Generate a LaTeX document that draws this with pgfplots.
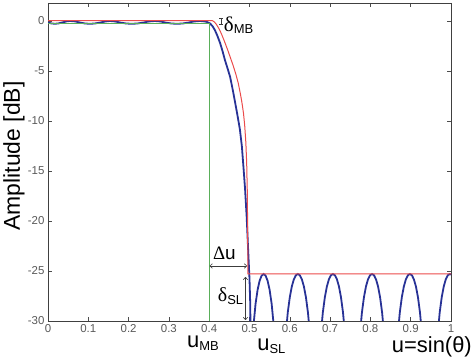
\documentclass[border=0pt]{standalone}
\usepackage{fontspec}
\setmainfont{Liberation Sans}
\newfontfamily\grk{Liberation Serif}
\usepackage{pgfplots}
\pgfplotsset{compat=1.18}
\usetikzlibrary{arrows.meta}
\definecolor{myblue}{RGB}{40,50,150}
\definecolor{myred}{RGB}{235,75,75}
\definecolor{mygreen}{RGB}{90,175,90}
\definecolor{arr}{RGB}{60,60,60}
\begin{document}
\begin{tikzpicture}
\path[use as bounding box] (0,0) rectangle (474bp,360bp);
\begin{axis}[
  at={(48bp,39bp)}, anchor=south west,
  scale only axis, width=403bp, height=318bp,
  xmin=0, xmax=1, ymin=-30, ymax=1.8,
  xtick={0,0.1,0.2,0.3,0.4,0.5,0.6,0.7,0.8,0.9,1},
  ytick={-30,-25,-20,-15,-10,-5,0},
  tick align=inside, major tick length=4bp,
  tick style={black!70, line width=0.5bp},
  axis line style={black!75, line width=0.6bp},
  ticklabel style={font=\fontsize{11.5}{12}\selectfont, text=black!65},
  /pgf/number format/assume math mode=true,
  clip mode=individual,
]
% blue: array pattern
\addplot[myblue, line width=1.8bp] coordinates {
(0,-0.15)(0.008,-0.24)(0.017,-0.28)(0.026,-0.24)(0.036,-0.14)(0.046,-0.04)(0.055,0)
(0.067,-0.04)(0.08,-0.16)(0.092,-0.25)(0.104,-0.28)(0.116,-0.25)(0.129,-0.16)(0.142,-0.05)(0.154,0)
(0.167,-0.05)(0.18,-0.16)(0.194,-0.25)(0.208,-0.28)(0.222,-0.25)(0.236,-0.16)(0.25,-0.05)(0.265,0)
(0.279,-0.05)(0.292,-0.16)(0.306,-0.25)(0.32,-0.28)(0.334,-0.25)(0.348,-0.16)(0.362,-0.05)(0.377,0)
(0.390,-0.05)(0.396,-0.12)(0.402,-0.25)(0.408,-0.5)(0.414,-0.9)(0.420,-1.45)(0.427,-2.2)(0.433,-3.0)
(0.439,-3.9)(0.446,-4.8)(0.452,-5.6)(0.459,-7.0)(0.465,-8.3)(0.47,-9.4)(0.476,-10.8)(0.481,-12.5)
(0.485,-14.6)(0.489,-16.8)(0.493,-19.6)(0.497,-23.2)(0.500,-25.8)(0.502,-28.5)(0.5035,-40)
(0.505,-33.6)(0.510,-30.4)(0.515,-28.3)(0.520,-26.9)(0.525,-25.99)(0.530,-25.47)(0.535,-25.3)
(0.540,-25.47)(0.545,-25.99)(0.550,-26.9)(0.555,-28.3)(0.560,-30.4)(0.565,-33.6)(0.577,-60)
(0.585,-34.6)(0.59,-31.32)(0.595,-29.14)(0.60,-27.62)(0.605,-26.55)(0.61,-25.84)(0.615,-25.43)(0.62,-25.3)
(0.625,-25.43)(0.63,-25.84)(0.635,-26.55)(0.64,-27.62)(0.645,-29.14)(0.65,-31.32)(0.655,-34.6)(0.663,-60)
(0.672,-34.6)(0.677,-31.32)(0.682,-29.14)(0.687,-27.62)(0.692,-26.55)(0.697,-25.84)(0.702,-25.43)(0.707,-25.3)
(0.712,-25.43)(0.717,-25.84)(0.722,-26.55)(0.727,-27.62)(0.732,-29.14)(0.737,-31.32)(0.742,-34.6)(0.755,-60)
(0.769,-34.6)(0.774,-31.32)(0.779,-29.14)(0.784,-27.62)(0.789,-26.55)(0.794,-25.84)(0.799,-25.43)(0.804,-25.3)
(0.809,-25.43)(0.814,-25.84)(0.819,-26.55)(0.824,-27.62)(0.829,-29.14)(0.834,-31.32)(0.839,-34.6)(0.851,-60)
(0.863,-34.6)(0.868,-31.32)(0.873,-29.14)(0.878,-27.62)(0.883,-26.55)(0.888,-25.84)(0.893,-25.43)(0.898,-25.3)
(0.903,-25.43)(0.908,-25.84)(0.913,-26.55)(0.918,-27.62)(0.923,-29.14)(0.928,-31.32)(0.933,-34.6)(0.947,-60)
(0.962,-34.6)(0.967,-31.32)(0.972,-29.14)(0.977,-27.62)(0.982,-26.55)(0.987,-25.84)(0.992,-25.43)(0.997,-25.3)(1.0,-25.35)
};
% green
\addplot[mygreen, line width=1bp] coordinates {(0,-0.3)(0.4,-0.3)(0.4,-30)};
% red mask
\addplot[myred, line width=1bp] coordinates {
(0,0.03)(0.408,0.03)(0.413,-0.1)(0.418,-0.35)(0.424,-0.75)(0.43,-1.25)(0.437,-1.95)(0.445,-2.8)
(0.452,-3.6)(0.459,-4.4)(0.466,-5.3)(0.472,-6.2)(0.477,-7.2)(0.481,-8.1)(0.485,-9.2)(0.488,-10.4)
(0.491,-12.2)(0.493,-14.2)(0.4945,-17)(0.4955,-21)(0.496,-25.3)(1,-25.3)
};
% annotations
\draw[arr, line width=0.7bp, {Bar[width=3.5bp]}-{Bar[width=3.5bp]}] (axis cs:0.429,0.25) -- (axis cs:0.429,-0.35);
\node[anchor=base west, inner sep=0pt] at (axis cs:0.436,-1.1)
  {\fontsize{21}{21}\selectfont{\grk δ}\raisebox{-0.15ex}{\fontsize{13}{13}\selectfont MB}};
\draw[arr, line width=0.6bp, {To[length=3bp,width=5bp]}-{To[length=3bp,width=5bp]}] (axis cs:0.401,-24.5) -- (axis cs:0.494,-24.5);
\node[anchor=base west, inner sep=0pt] at (axis cs:0.409,-23.9)
  {\fontsize{19}{19}\selectfont{\grk Δ}u};
\draw[arr, line width=0.6bp, {To[length=3bp,width=5bp]}-{To[length=3bp,width=5bp]}] (axis cs:0.49,-25.6) -- (axis cs:0.49,-29.9);
\node[anchor=base west, inner sep=0pt] at (axis cs:0.421,-28.1)
  {\fontsize{20}{20}\selectfont{\grk δ}\raisebox{-0.25ex}{\fontsize{13}{13}\selectfont SL}};
\node[anchor=base west, inner sep=0pt] at (axis cs:0.345,-32.7)
  {\fontsize{22}{22}\selectfont u\raisebox{-0.2ex}{\fontsize{13}{13}\selectfont MB}};
\node[anchor=base west, inner sep=0pt] at (axis cs:0.519,-33.0)
  {\fontsize{22}{22}\selectfont u\raisebox{-0.2ex}{\fontsize{13}{13}\selectfont SL}};
\node[anchor=base east, inner sep=0pt] at (axis cs:1.052,-33.2)
  {\fontsize{22}{22}\selectfont u=sin(θ)};
\end{axis}
\node[rotate=90, inner sep=0pt, font=\fontsize{23}{23}\selectfont] at (14bp,204bp) {Amplitude [dB]};
\end{tikzpicture}
\end{document}
